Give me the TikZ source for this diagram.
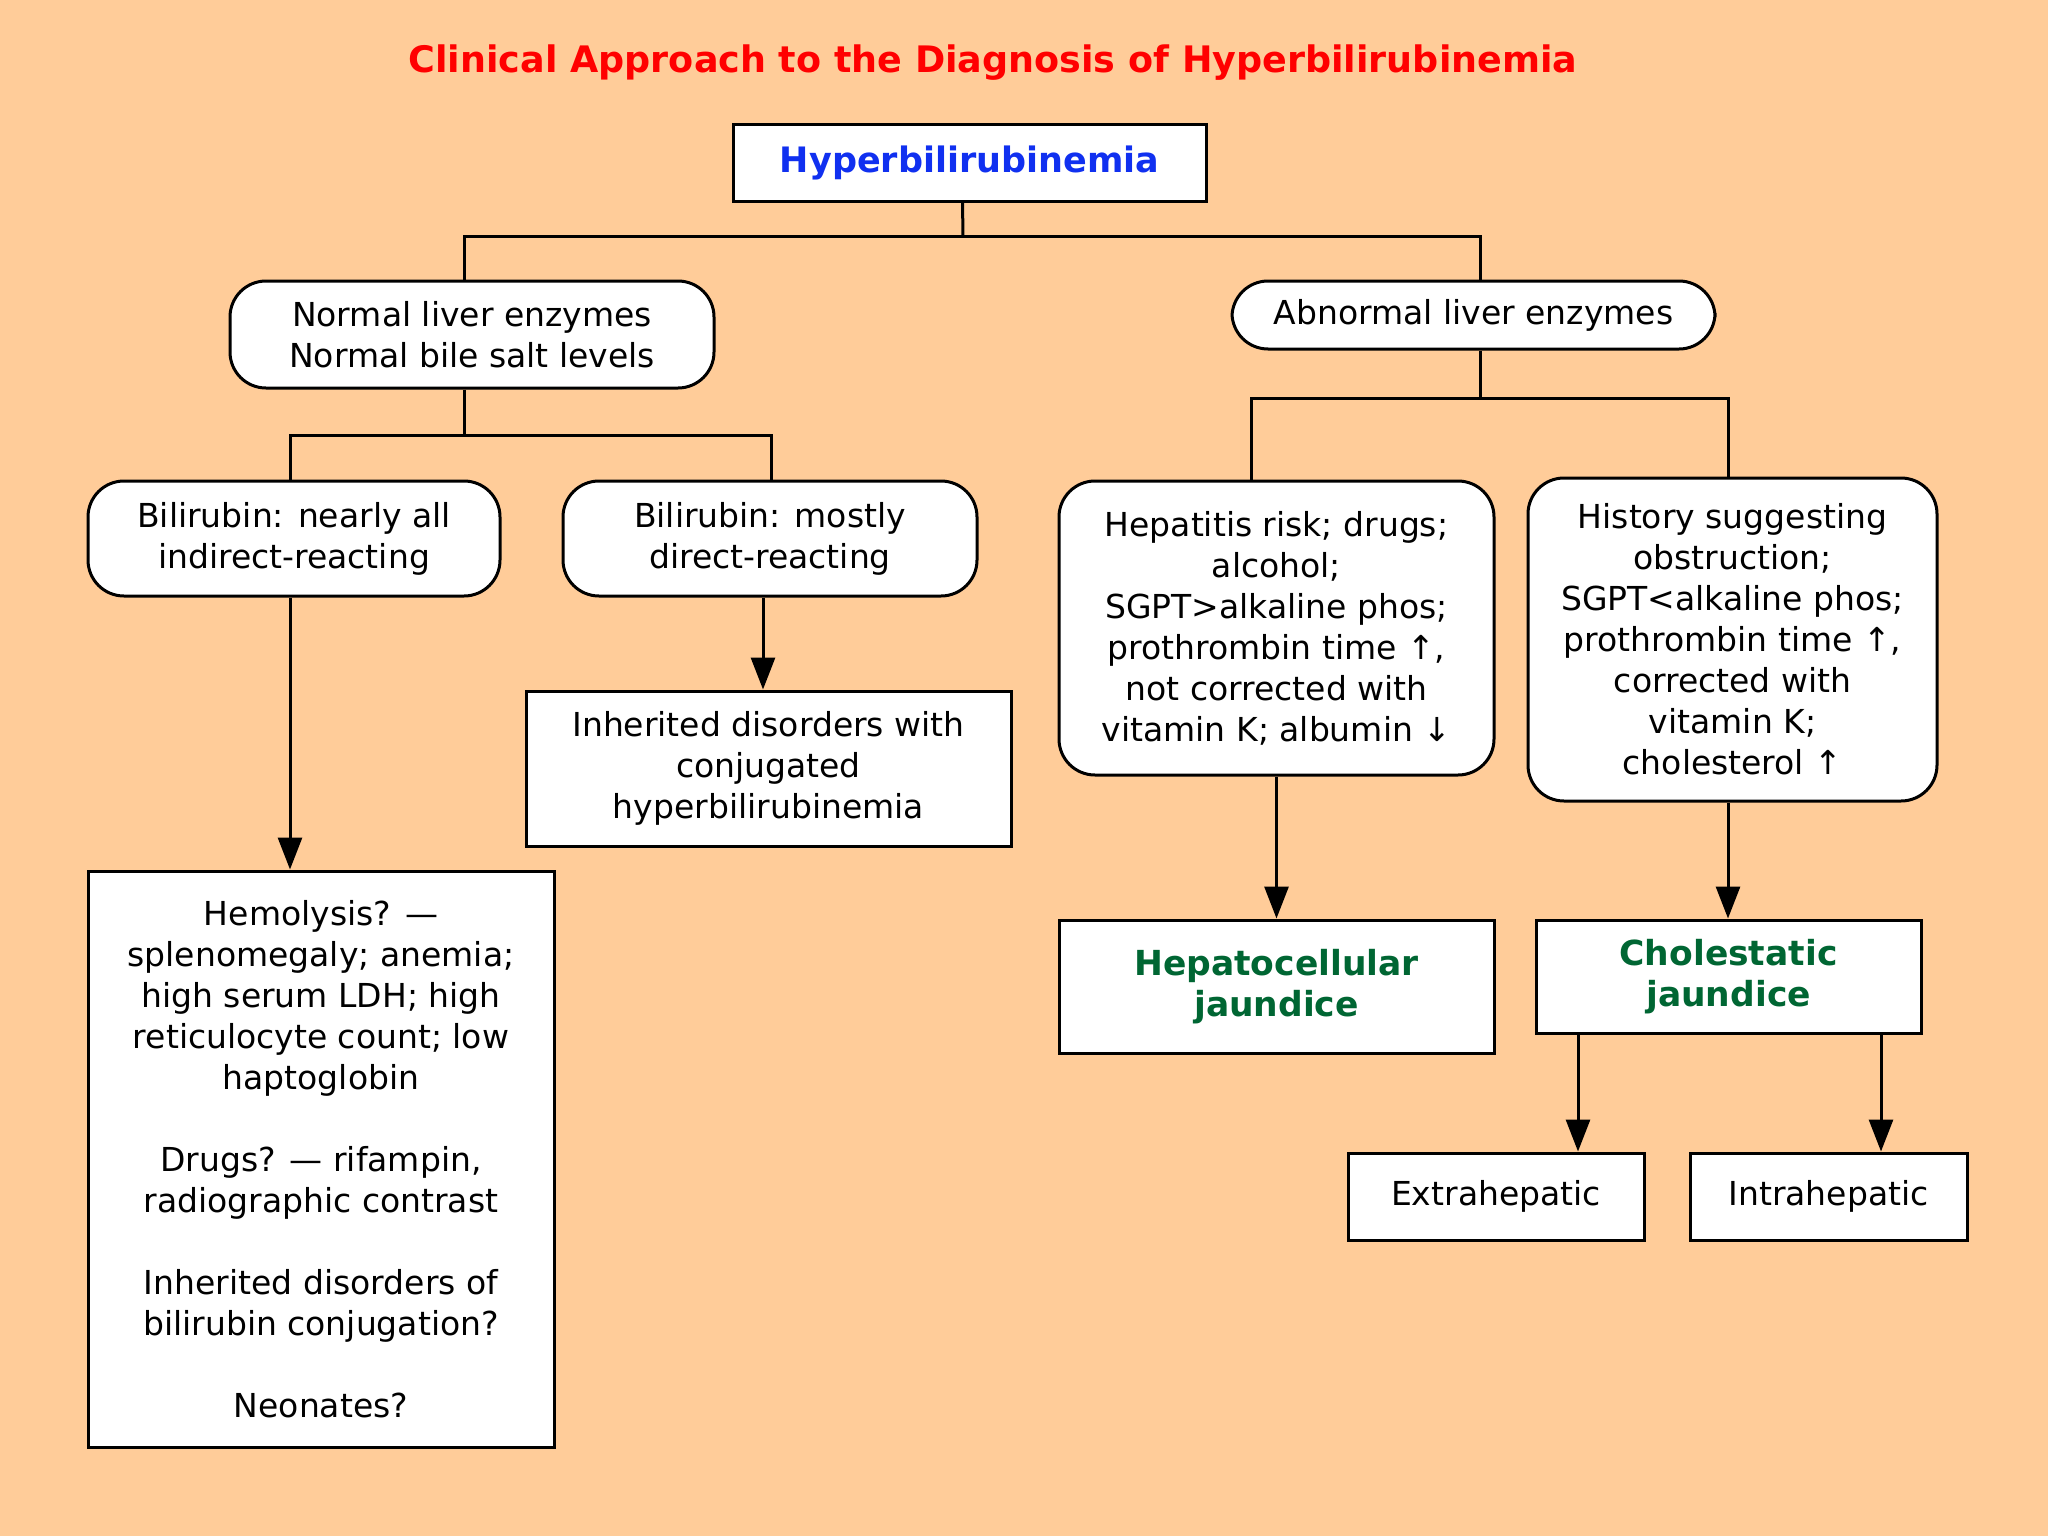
\documentclass[tikz,border=0pt]{standalone}
\usepackage{fontspec}
\setmainfont{DejaVu Sans}
\usetikzlibrary{arrows.meta}
\definecolor{bg}{HTML}{FFCC99}
\definecolor{ttl}{HTML}{FF0000}
\definecolor{hblue}{HTML}{1030F0}
\definecolor{jgreen}{HTML}{006633}
\tikzset{
 base/.style={draw=black, line width=3pt, fill=white, align=center, inner sep=0pt, font=\fontsize{33}{41}\selectfont},
 sqbox/.style={base},
 rbox/.style={base, rounded corners=36pt},
 link/.style={line width=3pt},
 arr/.style={line width=3pt, -{Triangle[width=24pt,length=32pt]}},
 greenbold/.style={text=jgreen, font=\bfseries\fontsize{34.5}{41}\selectfont},
}
\begin{document}
\begin{tikzpicture}[x=1pt,y=-1pt]
\fill[bg] (0,0) rectangle (2048,1536);
\useasboundingbox (0,0) rectangle (2048,1536);

\node[font=\bfseries\fontsize{36.5}{42}\selectfont, text=ttl] (title) at (993,63) {Clinical Approach to the Diagnosis of Hyperbilirubinemia};

\node[sqbox, minimum width=473pt, minimum height=76pt, text=hblue, font=\bfseries\fontsize{35}{41}\selectfont] (hyp) at (969.5,163) {Hyperbilirubinemia};

\node[rbox, minimum width=484pt, minimum height=107pt] (nle) at (472,334.5) {Normal liver enzymes\\Normal bile salt levels};
\node[rbox, minimum width=483pt, minimum height=68pt] (ale) at (1473.5,315) {Abnormal liver enzymes};

\node[rbox, minimum width=412pt, minimum height=115pt] (bni) at (294,538.5) {Bilirubin: nearly all\\indirect-reacting};
\node[rbox, minimum width=414pt, minimum height=115pt] (bmd) at (770,538.5) {Bilirubin: mostly\\direct-reacting};

\node[sqbox, minimum width=485pt, minimum height=155pt] (inh) at (768.5,768.5) {Inherited disorders with\\conjugated\\hyperbilirubinemia};

\node[sqbox, minimum width=466pt, minimum height=576pt] (hem) at (321,1159) {Hemolysis? —\\splenomegaly; anemia;\\high serum LDH; high\\reticulocyte count; low\\haptoglobin\\[41pt]Drugs? — rifampin,\\radiographic contrast\\[41pt]Inherited disorders of\\bilirubin conjugation?\\[41pt]Neonates?};

\node[rbox, minimum width=435pt, minimum height=294pt] (hep) at (1276.5,628) {Hepatitis risk; drugs;\\alcohol;\\SGPT>alkaline phos;\\prothrombin time ↑,\\not corrected with\\vitamin K; albumin ↓};
\node[rbox, minimum width=409pt, minimum height=323pt] (his) at (1732.5,639.5) {History suggesting\\obstruction;\\SGPT<alkaline phos;\\prothrombin time ↑,\\corrected with\\vitamin K;\\cholesterol ↑};

\node[sqbox, greenbold, minimum width=435pt, minimum height=133pt] (hcj) at (1276.5,986.5) {Hepatocellular\\jaundice};
\node[sqbox, greenbold, minimum width=385pt, minimum height=113pt] (chj) at (1728.5,976.5) {Cholestatic\\jaundice};

\node[sqbox, minimum width=296pt, minimum height=87pt] (ext) at (1496,1196.5) {Extrahepatic};
\node[sqbox, minimum width=277pt, minimum height=87pt] (int) at (1828.5,1196.5) {Intrahepatic};

% tree connectors
\coordinate (tb) at (963,236);
\draw[link] ([xshift=-7]hyp.south) -- (tb);
\draw[link] ([xshift=-8]nle.north) |- (tb) -| ([xshift=6.5]ale.north);

\coordinate (lb) at (464,435);
\draw[link] ([xshift=-8]nle.south) -- (lb);
\draw[link] ([xshift=-4]bni.north) |- (lb) -| ([xshift=1]bmd.north);

\coordinate (rb) at (1480,398);
\draw[link] ([xshift=6.5]ale.south) -- (rb);
\draw[link] ([xshift=-25.5]hep.north) |- (rb) -| ([xshift=-4.5]his.north);

% arrows
\draw[arr] ([xshift=-4]bni.south) -- ([xshift=-4]bni.south |- hem.north);
\draw[arr] ([xshift=-7]bmd.south) -- ([xshift=-7]bmd.south |- inh.north);
\draw[arr] (hep.south) -- (hep.south |- hcj.north);
\draw[arr] ([xshift=-4.5]his.south) -- ([xshift=-4.5]his.south |- chj.north);
\draw[arr] ([xshift=-150.5]chj.south) -- ([xshift=-150.5]chj.south |- ext.north);
\draw[arr] ([xshift=152.5]chj.south) -- ([xshift=152.5]chj.south |- int.north);
\end{tikzpicture}
\end{document}
